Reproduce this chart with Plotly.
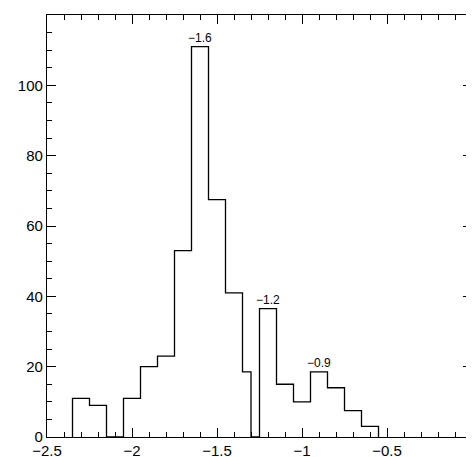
import plotly.graph_objects as go

edges = [-2.35,-2.25,-2.15,-2.05,-1.95,-1.85,-1.75,-1.65,-1.55,-1.45,-1.35,-1.30,-1.25,-1.15,-1.05,-0.95,-0.85,-0.75,-0.65,-0.55]
counts = [11,9,0,11,20,23,53,111,67.5,41,18.5,0,36.5,15,10,18.5,14,7.5,3]
peak_labels = ["−1.6", "−1.2", "−0.9"]
peak_x = [-1.6, -1.2, -0.9]
peak_y = [111, 36.5, 18.5]

# step outline: x edges with counts, closed to baseline at both ends
xs = [edges[0]] + edges
ys = [0] + counts + [0]

fig = go.Figure()
fig.add_trace(go.Scatter(x=xs, y=ys, mode="lines", line=dict(color="black", width=1.3, shape="hv"),
                         hoverinfo="skip", showlegend=False))
for t, x, y in zip(peak_labels, peak_x, peak_y):
    fig.add_annotation(x=x, y=y, text=t, showarrow=False, yshift=9,
                       font=dict(size=12, color="black"))

ax = dict(showline=True, linecolor="black", linewidth=1.3, mirror="ticks", ticks="inside",
          tickcolor="black", ticklen=9, showgrid=False, zeroline=False,
          tickfont=dict(size=15, color="black"))
fig.update_xaxes(**ax, range=[-2.5, 0], dtick=0.5, tick0=0,
                 minor=dict(dtick=0.1, ticks="inside", ticklen=5, tickcolor="black", showgrid=False))
fig.update_yaxes(**ax, range=[0, 120], dtick=20,
                 minor=dict(dtick=5, ticks="inside", ticklen=5, tickcolor="black", showgrid=False))
fig.update_layout(width=474, height=457, margin=dict(l=39, r=7, t=6, b=22),
                  plot_bgcolor="white", paper_bgcolor="white",
                  font=dict(family="Liberation Sans, Arial, sans-serif", color="black"))
fig.write_html("out.html")
